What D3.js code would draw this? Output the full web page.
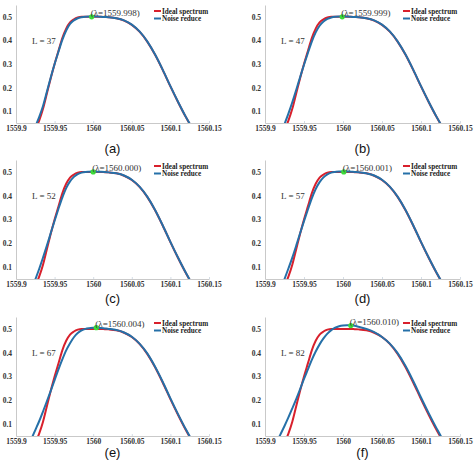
<!DOCTYPE html>
<html><head><meta charset="utf-8">
<script src="https://cdn.jsdelivr.net/npm/d3@7/dist/d3.min.js"></script>
<style>body{margin:0;background:#fff}</style>
</head><body>
<svg id="chart" width="474" height="463"></svg>
<script>
// ---- data ----
const lambdaGrid = [1559.915,1559.92,1559.925,1559.93,1559.935,1559.94,1559.945,1559.95,1559.955,1559.96,1559.965,1559.97,1559.975,1559.98,1559.985,1559.99,1559.995,1560.0,1560.005,1560.01,1560.015,1560.02,1560.03,1560.04,1560.05,1560.06,1560.07,1560.08,1560.09,1560.1,1560.11,1560.12,1560.13,1560.135];
const idealSpectrum = [-0.08,-0.03,0.02,0.06,0.11,0.175,0.24,0.30,0.355,0.41,0.45,0.476,0.489,0.497,0.5,0.5,0.5,0.5,0.5,0.5,0.499,0.498,0.494,0.484,0.466,0.437,0.395,0.34,0.275,0.205,0.138,0.075,0.018,-0.01];
const noiseL37 = [-0.06,-0.01,0.035,0.075,0.122,0.182,0.243,0.300,0.352,0.402,0.442,0.47,0.485,0.494,0.498,0.5,0.501,0.501,0.501,0.5,0.499,0.498,0.494,0.485,0.467,0.438,0.396,0.341,0.276,0.206,0.139,0.076,0.019,-0.01];
const noiseL47 = [-0.04,0.0,0.045,0.09,0.138,0.19,0.244,0.297,0.347,0.395,0.434,0.462,0.48,0.491,0.497,0.5,0.501,0.501,0.501,0.5,0.499,0.498,0.494,0.485,0.467,0.438,0.396,0.341,0.276,0.206,0.139,0.076,0.019,-0.01];
const noiseL52 = [-0.035,0.005,0.048,0.092,0.14,0.19,0.243,0.295,0.345,0.392,0.432,0.46,0.479,0.491,0.497,0.5,0.501,0.502,0.501,0.501,0.5,0.498,0.494,0.485,0.467,0.438,0.396,0.341,0.276,0.206,0.139,0.076,0.019,-0.01];
const noiseL57 = [-0.03,0.01,0.05,0.094,0.14,0.19,0.242,0.293,0.342,0.389,0.428,0.457,0.477,0.49,0.497,0.5,0.502,0.502,0.502,0.501,0.5,0.499,0.494,0.485,0.467,0.438,0.396,0.341,0.276,0.206,0.139,0.076,0.019,-0.01];
const noiseL67 = [0.0,0.038,0.075,0.112,0.153,0.196,0.24,0.285,0.33,0.372,0.41,0.44,0.465,0.483,0.494,0.5,0.503,0.505,0.505,0.504,0.502,0.5,0.495,0.485,0.467,0.438,0.397,0.342,0.278,0.208,0.141,0.078,0.021,-0.005];
const noiseL82 = [0.025,0.058,0.092,0.128,0.166,0.205,0.247,0.29,0.33,0.37,0.405,0.435,0.46,0.48,0.495,0.505,0.511,0.514,0.515,0.515,0.513,0.509,0.5,0.486,0.466,0.438,0.398,0.345,0.281,0.212,0.145,0.082,0.024,0.0];
const panelLabels = ["(a)","(b)","(c)","(d)","(e)","(f)"];
const lengthLabels = ["L = 37","L = 47","L = 52","L = 57","L = 67","L = 82"];
const peakLambda = [1559.998,1559.999,1560.000,1560.001,1560.004,1560.010];
const peakValue = [0.5,0.5,0.5,0.5,0.505,0.514];
const peakText = ["(λ=1559.998)","(λ=1559.999)","(λ=1560.000)","(λ=1560.001)","(λ=1560.004)","(λ=1560.010)"];
const xTicks = [1559.9,1559.95,1560,1560.05,1560.1,1560.15];
const xTickLabels = ["1559.9","1559.95","1560","1560.05","1560.1","1560.15"];
const yTicks = [0.1,0.2,0.3,0.4,0.5];
const yTickLabels = ["0.1","0.2","0.3","0.4","0.5"];
const seriesNames = ["Ideal spectrum","Noise reduce"];

const noiseSeries = [noiseL37,noiseL47,noiseL52,noiseL57,noiseL67,noiseL82];

// ---- layout ----
const cols = [[16,209],[265,460]];
const rows = [[5,123],[160,279],[317,436]];
const captionY = [153,303,457];
const RED = "#d8202c", BLUE = "#2570a8";

const svg = d3.select("#chart");
const defs = svg.append("defs");

for (let i = 0; i < 6; i++) {
  const c = i % 2, r = Math.floor(i / 2);
  const [x0, x1] = cols[c], [y0, y1] = rows[r];
  const x = d3.scaleLinear().domain([1559.9, 1560.15]).range([x0, x1]);
  const y = d3.scaleLinear().domain([0.05, 0.55]).range([y1, y0]);
  const g = svg.append("g");

  const clipId = "clip" + i;
  defs.append("clipPath").attr("id", clipId).append("rect")
    .attr("x", x0).attr("y", y0 - 10).attr("width", x1 - x0).attr("height", y1 - y0 + 10);

  // axes
  const xa = g.append("g").attr("transform", `translate(0,${y1})`)
    .call(d3.axisBottom(x).tickValues(xTicks).tickFormat((d, k) => xTickLabels[k])
      .tickSizeInner(-2).tickSizeOuter(0).tickPadding(3));
  const ya = g.append("g").attr("transform", `translate(${x0},0)`)
    .call(d3.axisLeft(y).tickValues(yTicks).tickFormat((d, k) => yTickLabels[k])
      .tickSizeInner(0).tickSizeOuter(0).tickPadding(4));
  [xa, ya].forEach(a => {
    a.select(".domain").attr("stroke", "#c9c9c9").attr("stroke-width", 1);
    a.selectAll(".tick line").attr("stroke", "#d4dde6");
    a.selectAll("text").attr("font-family", "'Liberation Serif', serif")
      .attr("font-weight", "bold").attr("font-size", 7.5).attr("fill", "#333");
  });

  const line = d3.line().x(d => x(d[0])).y(d => y(d[1])).curve(d3.curveMonotoneX);
  const plot = g.append("g").attr("clip-path", `url(#${clipId})`);
  plot.append("path").datum(lambdaGrid.map((l, k) => [l, idealSpectrum[k]]))
    .attr("d", line).attr("fill", "none").attr("stroke", RED).attr("stroke-width", 2);
  plot.append("path").datum(lambdaGrid.map((l, k) => [l, noiseSeries[i][k]]))
    .attr("d", line).attr("fill", "none").attr("stroke", BLUE).attr("stroke-width", 2);

  // peak marker
  const px = x(peakLambda[i]), py = y(peakValue[i]);
  g.append("circle").attr("cx", px).attr("cy", py).attr("r", 2.6).attr("fill", "#3ddc3a");
  g.append("text").attr("x", px - 1).attr("y", py - 1)
    .attr("font-family", "'Liberation Serif', serif").attr("font-size", 9).attr("fill", "#333")
    .text(peakText[i]);

  // L label
  g.append("text").attr("x", x0 + 16).attr("y", y0 + 39)
    .attr("font-family", "'Liberation Serif', serif").attr("font-size", 9).attr("fill", "#333")
    .text(lengthLabels[i]);

  // legend
  const lx = x0 + 138, ly = y0 + 6;
  [RED, BLUE].forEach((col, k) => {
    g.append("line").attr("x1", lx).attr("x2", lx + 7).attr("y1", ly + k * 7.5).attr("y2", ly + k * 7.5)
      .attr("stroke", col).attr("stroke-width", 2);
    g.append("text").attr("x", lx + 8).attr("y", ly + k * 7.5 + 2.5)
      .attr("font-family", "'Liberation Serif', serif").attr("font-weight", "bold")
      .attr("font-size", 7.2).attr("fill", "#222").text(seriesNames[k]);
  });

  // caption
  g.append("text").attr("x", (x0 + x1) / 2).attr("y", captionY[r]).attr("text-anchor", "middle")
    .attr("font-family", "'Liberation Sans', Arial, sans-serif").attr("font-size", 13).attr("fill", "#111")
    .text(panelLabels[i]);
}
</script>
</body></html>
